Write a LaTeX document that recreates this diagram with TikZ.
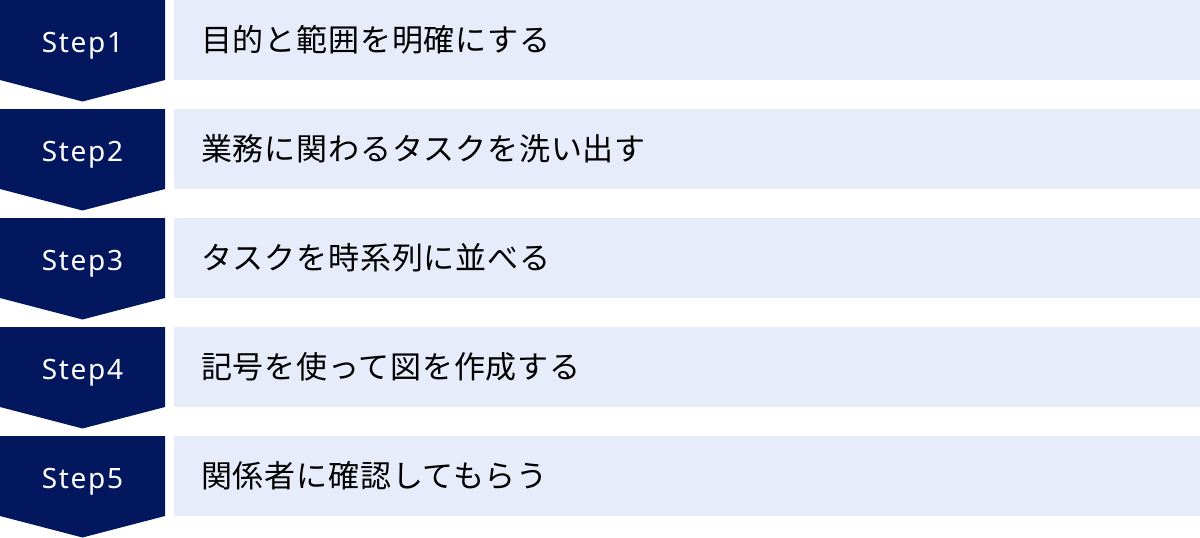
\documentclass[tikz,border=0pt]{standalone}
\usepackage{fontspec}
\setmainfont{Noto Sans}
\newfontfamily\stepfont[LetterSpace=6]{Noto Sans}
\newfontfamily\jpfont[LetterSpace=2.6]{Noto Sans CJK JP}
\definecolor{navy}{HTML}{03175F}
\definecolor{lightbar}{HTML}{E6ECF9}
\begin{document}
\begin{tikzpicture}[x=1pt,y=-1pt,
  stepshape/.style={fill=navy,draw=none},
  barshape/.style={fill=lightbar,draw=none},
  steplabel/.style={text=white,font=\stepfont\fontsize{28}{34}\selectfont,inner sep=0pt,anchor=base},
  barlabel/.style={text=black,font=\jpfont\fontsize{31}{36}\selectfont,inner sep=0pt,anchor=west}]
\useasboundingbox (0,0) rectangle (1200,538);
\foreach \i/\t in {1/目的と範囲を明確にする,2/業務に関わるタスクを洗い出す,3/タスクを時系列に並べる,4/記号を使って図を作成する,5/関係者に確認してもらう}{
  \pgfmathsetmacro{\yo}{(\i-1)*109}
  \begin{scope}[yshift=-\yo pt]
    \fill[stepshape] (0,0) -- (165,0) -- (165,80) -- (82.5,101.5) -- (0,80) -- cycle;
    \fill[barshape] (174,0) rectangle (1200,80);
    \node[steplabel] (s\i) at (82.5,52.5) {Step\i};
    \node[barlabel] (b\i) at (201,40) {\t};
  \end{scope}
}
\end{tikzpicture}
\end{document}
